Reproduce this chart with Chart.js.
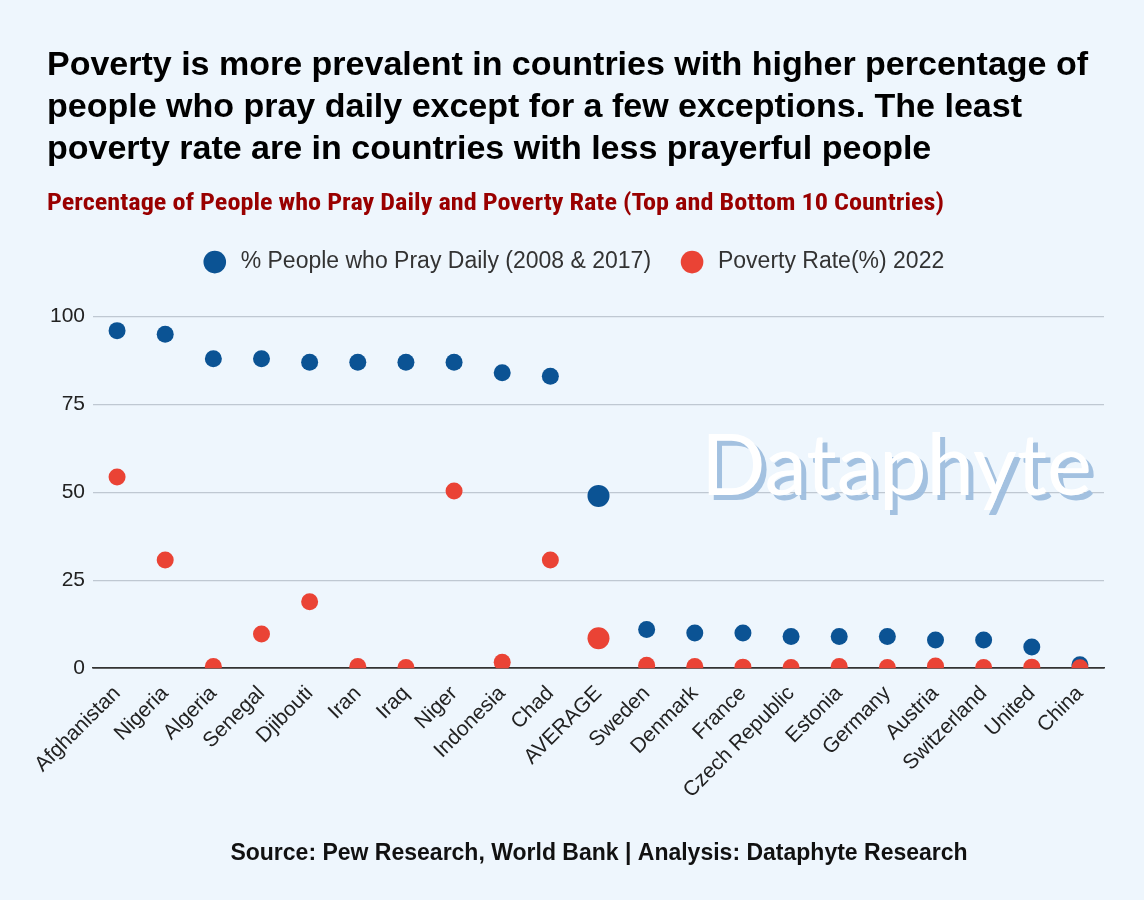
<!DOCTYPE html>
<html>
<head>
<meta charset="utf-8">
<script src="https://cdn.jsdelivr.net/npm/chart.js@4"></script>
<style>
  html, body { margin: 0; padding: 0; background: #eef6fd; }
  #wrap { width: 1144px; height: 900px; }
</style>
</head>
<body>
<div id="wrap"><canvas id="chart"></canvas></div>
<script>
const countries = ['Afghanistan', 'Nigeria', 'Algeria', 'Senegal', 'Djibouti', 'Iran', 'Iraq', 'Niger', 'Indonesia', 'Chad',
  'AVERAGE', 'Sweden', 'Denmark', 'France', 'Czech Republic', 'Estonia', 'Germany', 'Austria', 'Switzerland', 'United', 'China'];
const prayDaily = [96, 95, 88, 88, 87, 87, 87, 87, 84, 83, 49, 11, 10, 10, 9, 9, 9, 8, 8, 6, 1];
const povertyRate = [54.4, 30.8, 0.5, 9.7, 18.9, 0.5, 0.2, 50.4, 1.7, 30.8, 8.5, 0.8, 0.5, 0.3, 0.2, 0.5, 0.2, 0.6, 0.2, 0.3, 0.1];
const yTicks = [0, 25, 50, 75, 100];

const subtitleText = 'Percentage of People who Pray Daily and Poverty Rate (Top and Bottom 10 Countries)';
const sourceText = 'Source: Pew Research, World Bank | Analysis: Dataphyte Research';

const blue = '#0b5394';
const red = '#ea4335';
const sans = '"Liberation Sans", Arial, sans-serif';

// bigger dot for the average column
const radius = ctx => countries[ctx.dataIndex] === 'AVERAGE' ? 11 : 8.5;

// push the plot down a bit below the legend
const legendGap = {
  id: 'legendGap',
  beforeInit(chart) {
    const fit = chart.legend.fit;
    chart.legend.fit = function () {
      fit.call(this);
      this.height += 33;
    };
  }
};

const decor = {
  id: 'decor',
  beforeDraw(chart) {
    const c = chart.ctx;
    c.save();
    c.fillStyle = '#eef6fd';
    c.fillRect(0, 0, chart.width, chart.height);
    c.restore();
  },
  beforeDatasetsDraw(chart) {
    // watermark: blue drop shadow, white letters on top
    const c = chart.ctx;
    c.save();
    c.font = '400 85px Lato';
    c.textAlign = 'left';
    c.textBaseline = 'alphabetic';
    c.fillStyle = 'rgba(158,190,222,0.95)';
    c.fillText('Dataphyte', 706, 500);
    c.fillStyle = '#ffffff';
    c.fillText('Dataphyte', 701, 495);
    c.restore();
  },
  afterDraw(chart) {
    const c = chart.ctx;
    c.save();
    c.textBaseline = 'alphabetic';
    // subtitle, a slightly widened condensed face
    c.save();
    c.translate(47, 210);
    c.scale(1.14, 1);
    c.font = 'bold 23px "Roboto Condensed", Roboto, sans-serif';
    c.fillStyle = '#990000';
    c.textAlign = 'left';
    c.fillText(subtitleText, 0, 0);
    c.restore();
    c.font = 'bold 23px ' + sans;
    c.fillStyle = '#111';
    c.textAlign = 'center';
    c.fillText(sourceText, 599, 860);
    c.restore();
  }
};

new Chart(document.getElementById('chart'), {
  type: 'line',
  data: {
    labels: countries,
    datasets: [
      {
        label: '% People who Pray Daily (2008 & 2017)',
        data: prayDaily,
        showLine: false,
        backgroundColor: blue,
        borderColor: blue,
        pointRadius: radius,
        pointHoverRadius: radius,
        pointBorderWidth: 0,
        order: 2
      },
      {
        label: 'Poverty Rate(%) 2022',
        data: povertyRate,
        showLine: false,
        backgroundColor: red,
        borderColor: red,
        pointRadius: radius,
        pointHoverRadius: radius,
        pointBorderWidth: 0,
        order: 1
      }
    ]
  },
  options: {
    responsive: true,
    maintainAspectRatio: false,
    animation: false,
    layout: { padding: { left: 47, right: 40, top: 45, bottom: 92 } },
    scales: {
      x: {
        offset: true,
        grid: { display: false },
        border: { display: true, color: '#333', width: 1.5 },
        ticks: {
          color: '#222',
          font: { family: sans, size: 21 },
          minRotation: 45,
          maxRotation: 45,
          autoSkip: false,
          padding: 5
        }
      },
      y: {
        min: 0,
        max: 100,
        afterBuildTicks: axis => { axis.ticks = yTicks.map(v => ({ value: v })); },
        afterFit: axis => { axis.width = 46; },
        grid: {
          color: ctx => ctx.tick && ctx.tick.value === 0 ? '#333' : '#bfc8d2',
          lineWidth: ctx => ctx.tick && ctx.tick.value === 0 ? 1.5 : 1.2,
          drawTicks: false
        },
        border: { display: false },
        ticks: {
          color: '#222',
          font: { family: sans, size: 21 },
          padding: 8
        }
      }
    },
    plugins: {
      title: {
        display: true,
        align: 'start',
        text: ['Poverty is more prevalent in countries with higher percentage of',
               'people who pray daily except for a few exceptions. The least',
               'poverty rate are in countries with less prayerful people'],
        color: '#000',
        font: { family: sans, size: 34, weight: 'bold', lineHeight: 1.235 },
        padding: { top: 0, bottom: 16 }
      },
      // keeps the room for the subtitle; the text itself is painted in decor
      subtitle: {
        display: true,
        align: 'start',
        text: subtitleText,
        color: 'rgba(0,0,0,0)',
        font: { family: '"Roboto Condensed", Roboto, sans-serif', size: 23, weight: 'bold' },
        padding: { top: 0, bottom: 3 }
      },
      legend: {
        display: true,
        position: 'top',
        labels: {
          usePointStyle: true,
          pointStyle: 'circle',
          boxWidth: 16,
          boxHeight: 16,
          padding: 33,
          color: '#333',
          font: { family: sans, size: 23 },
          generateLabels(chart) {
            const items = Chart.defaults.plugins.legend.labels.generateLabels(chart);
            items.forEach(it => { it.text = ' ' + it.text; });
            return items.sort((a, b) => a.datasetIndex - b.datasetIndex);
          }
        }
      },
      tooltip: { enabled: false }
    }
  },
  plugins: [decor, legendGap]
});
</script>
</body>
</html>
